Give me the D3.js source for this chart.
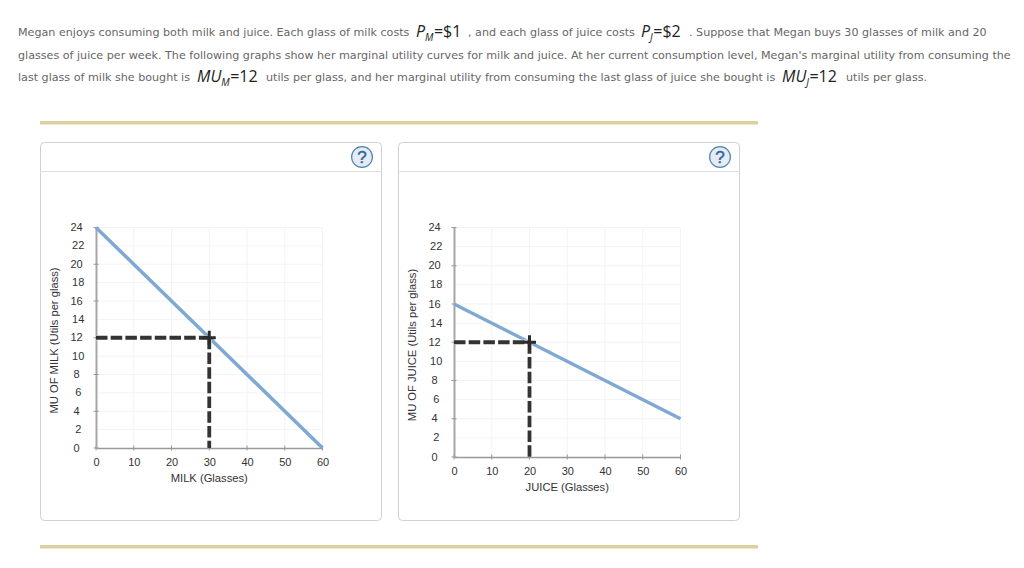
<!DOCTYPE html>
<html lang="en">
<head>
  <meta charset="UTF-8">
  <script src="https://d3js.org/d3.v7.min.js"></script>
  <style>
    html, body { margin: 0; padding: 0; background: #fff; overflow: hidden; }
    svg { display: block; }
    .para { font-family: "DejaVu Sans", sans-serif; font-size: 11.13px; fill: #666; }
    .math { font-family: "Open Sans", sans-serif; fill: #222; }
    .tick-label, .axis-title { font-family: "Liberation Sans", Arial, sans-serif; fill: #333; }
    .tick-label { font-size: 11px; }
    .axis-title { font-size: 11.2px; }
  </style>
</head>
<body>
  <script>
    // chart data
    const xTicks = [0, 10, 20, 30, 40, 50, 60];
    const yTicks = [0, 2, 4, 6, 8, 10, 12, 14, 16, 18, 20, 22, 24];
    const milkQuantity = [0, 60];
    const milkMU = [24, 0];
    const juiceQuantity = [0, 60];
    const juiceMU = [16, 4];
    const milkPoint = [30, 12];
    const juicePoint = [20, 12];

    // paragraph: plain runs and formula runs
    const textRuns = [
      { x: 18, y: 36, t: "Megan enjoys consuming both milk and juice. Each glass of milk costs" },
      { x: 416, y: 37, m: ["P", "M", "$1"] },
      { x: 468, y: 36, t: ", and each glass of juice costs" },
      { x: 641, y: 37, m: ["P", "J", "$2"] },
      { x: 689, y: 36, t: ". Suppose that Megan buys 30 glasses of milk and 20" },
      { x: 18, y: 59, t: "glasses of juice per week. The following graphs show her marginal utility curves for milk and juice. At her current consumption level, Megan's marginal utility from consuming the" },
      { x: 18, y: 81, t: "last glass of milk she bought is" },
      { x: 197, y: 82, m: ["MU", "M", "12"] },
      { x: 266, y: 81, t: "utils per glass, and her marginal utility from consuming the last glass of juice she bought is" },
      { x: 782, y: 82, m: ["MU", "J", "12"] },
      { x: 846, y: 81, t: "utils per glass." }
    ];

    const svg = d3.select("body").append("svg")
      .attr("width", 1024)
      .attr("height", 568);

    textRuns.forEach(r => {
      if (r.t) {
        svg.append("text").attr("class", "para").attr("x", r.x).attr("y", r.y).text(r.t);
      } else {
        const f = svg.append("text").attr("class", "math").attr("x", r.x).attr("y", r.y).style("font-size", "16px");
        f.append("tspan").style("font-style", "italic").text(r.m[0]);
        f.append("tspan").style("font-style", "italic").style("font-size", "10px").attr("dy", 4).text(r.m[1]);
        f.append("tspan").attr("dy", -4).attr("dx", 0.5).text("=");
        f.append("tspan").text(r.m[2]);
      }
    });

    // tan rules above and below
    [123, 547].forEach(y => {
      svg.append("rect").attr("x", 40).attr("y", y - 2).attr("width", 718).attr("height", 3.5).attr("fill", "#dcd29e");
    });

    function drawPanel(o) {
      const g = svg.append("g");

      g.append("rect").attr("x", o.cardX + 0.5).attr("y", 142.5).attr("width", 341).attr("height", 378)
        .attr("rx", 4).attr("fill", "#fff").attr("stroke", "#d0d0d0");
      g.append("line").attr("x1", o.cardX).attr("x2", o.cardX + 342).attr("y1", 171.5).attr("y2", 171.5)
        .attr("stroke", "#dedede");

      // help button
      g.append("circle").attr("cx", o.cardX + 322).attr("cy", 157).attr("r", 10.4)
        .attr("fill", "#e4ebf3").attr("stroke", "#4f83b5").attr("stroke-width", 1.2);
      g.append("text").attr("x", o.cardX + 322).attr("y", 163).attr("text-anchor", "middle")
        .style("font-family", "'Liberation Sans', Arial, sans-serif")
        .style("font-size", "17px").style("stroke", "#2f659c").style("stroke-width", 0.4)
        .style("fill", "#2f659c").text("?");

      const x = d3.scaleLinear().domain([0, 60]).range([o.x0, o.x0 + 226.5]);
      const y = d3.scaleLinear().domain([0, 24]).range([o.y0, 227.5]);

      // grid
      g.append("g").selectAll("line").data(xTicks.slice(1)).join("line")
        .attr("x1", d => x(d)).attr("x2", d => x(d)).attr("y1", y(24)).attr("y2", y(0))
        .attr("stroke", "#f3f3f3");
      g.append("g").selectAll("line").data(yTicks.slice(1)).join("line")
        .attr("x1", x(0)).attr("x2", x(60)).attr("y1", d => y(d)).attr("y2", d => y(d))
        .attr("stroke", "#f3f3f3");

      // axes
      const xAxis = g.append("g").attr("transform", `translate(0,${o.y0})`)
        .call(d3.axisBottom(x).tickValues(xTicks).tickSize(0).tickPadding(10));
      xAxis.select(".domain").attr("stroke", "#999").attr("stroke-width", 1.5);
      xAxis.selectAll(".tick text").attr("class", "tick-label").attr("fill", null);
      g.append("g").selectAll("line").data(xTicks).join("line")
        .attr("x1", d => x(d)).attr("x2", d => x(d)).attr("y1", o.y0 - 2.5).attr("y2", o.y0 + 2.5)
        .attr("stroke", "#999");

      const yAxis = g.append("g").attr("transform", `translate(${o.x0},0)`)
        .call(d3.axisLeft(y).tickValues(yTicks).tickSize(0));
      yAxis.select(".domain").attr("stroke", "#a6a6a6").attr("stroke-width", 2);
      yAxis.selectAll(".tick text").attr("class", "tick-label").attr("fill", null)
        .attr("text-anchor", "middle")
        .attr("y", -0.5)
        .attr("x", d => d % 4 === 0 ? -19.5 : -17.8);
      g.append("g").selectAll("line").data(yTicks.filter(d => d % 4 === 0)).join("line")
        .attr("x1", o.x0 - 2.5).attr("x2", o.x0 + 2.5).attr("y1", d => y(d)).attr("y2", d => y(d))
        .attr("stroke", "#999");

      g.append("text").attr("class", "axis-title").attr("text-anchor", "middle")
        .attr("x", x(30)).attr("y", o.y0 + 34).text(o.xTitle);
      g.append("text").attr("class", "axis-title").attr("text-anchor", "middle")
        .attr("transform", `translate(${o.x0 - 38},${o.titleMid}) rotate(-90)`).text(o.yTitle);

      // marginal utility curve
      const line = d3.line().x(d => x(d[0])).y(d => y(d[1]));
      g.append("path").datum(d3.zip(o.qty, o.mu)).attr("d", line)
        .attr("fill", "none").attr("stroke", "#7fa9d3").attr("stroke-width", 3.5);

      // dashed guides to the current point
      const [px, py] = o.point;
      const guide = [[[0, py], [px, py]], [[px, py], [px, 0]]];
      g.append("g").selectAll("path").data(guide).join("path").attr("d", line)
        .attr("fill", "none").attr("stroke", "#fff").attr("stroke-width", 5.5).attr("stroke-opacity", 0.6);
      g.append("g").selectAll("path").data(guide).join("path").attr("d", line)
        .attr("fill", "none").attr("stroke", "#333").attr("stroke-width", 3.8).attr("stroke-dasharray", "11.5,3.2");

      // plus marker
      g.append("path")
        .attr("d", `M${x(px) - 6.5},${y(py)}H${x(px) + 6.5}M${x(px)},${y(py) - 7}V${y(py) + 7}`)
        .attr("stroke", "#2b2b2b").attr("stroke-width", 3).attr("fill", "none");
    }

    drawPanel({ cardX: 40, x0: 96, y0: 448, qty: milkQuantity, mu: milkMU, point: milkPoint,
      xTitle: "MILK (Glasses)", yTitle: "MU OF MILK (Utils per glass)", titleMid: 340.5 });
    drawPanel({ cardX: 398, x0: 454, y0: 457, qty: juiceQuantity, mu: juiceMU, point: juicePoint,
      xTitle: "JUICE (Glasses)", yTitle: "MU OF JUICE (Utils per glass)", titleMid: 345 });
  </script>
</body>
</html>
